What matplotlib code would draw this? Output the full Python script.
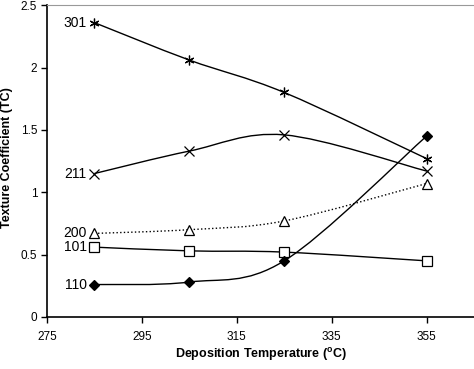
import matplotlib.pyplot as plt
from matplotlib.path import Path
from matplotlib.patches import PathPatch

plt.rcParams['font.family'] = ['Liberation Sans', 'DejaVu Sans']

temps = [285, 305, 325, 355]
tc_301 = [2.36, 2.06, 1.80, 1.27]
tc_211 = [1.15, 1.33, 1.46, 1.17]
tc_200 = [0.67, 0.70, 0.77, 1.07]
tc_101 = [0.56, 0.53, 0.52, 0.45]
tc_110 = [0.26, 0.28, 0.45, 1.45]

# name, values, marker, face, linestyle, marker size
series = [
    ("301", tc_301, (6, 2, 0), 'none', '-', 7),
    ("211", tc_211, 'x', 'none', '-', 6.5),
    ("200", tc_200, '^', 'white', ':', 6.5),
    ("101", tc_101, 's', 'white', '-', 6.5),
    ("110", tc_110, 'D', 'black', '-', 5),
]


def smooth_path(x, y):
    # excel style smoothed line (cubic bezier, catmull-rom tangents)
    pts = list(zip(x, y))
    n = len(pts)
    verts = [pts[0]]
    codes = [Path.MOVETO]
    for i in range(n - 1):
        p0 = pts[max(i - 1, 0)]
        p1 = pts[i]
        p2 = pts[i + 1]
        p3 = pts[min(i + 2, n - 1)]
        c1 = (p1[0] + (p2[0] - p0[0]) / 6, p1[1] + (p2[1] - p0[1]) / 6)
        c2 = (p2[0] - (p3[0] - p1[0]) / 6, p2[1] - (p3[1] - p1[1]) / 6)
        verts += [c1, c2, p2]
        codes += [Path.CURVE4] * 3
    return Path(verts, codes)


fig = plt.figure(figsize=(4.74, 3.69), dpi=100)
ax = fig.add_axes([0.099, 0.141, 0.901, 0.845])

for name, vals, mk, fc, ls, ms in series:
    ax.add_patch(PathPatch(smooth_path(temps, vals), fill=False,
                           edgecolor='black', lw=1.0, linestyle=ls))
    ax.plot(temps, vals, linestyle='none', marker=mk, markersize=ms,
            markerfacecolor=fc, markeredgecolor='black', mew=0.9)
    ax.text(temps[0] - 1.6, vals[0], name, ha='right', va='center', fontsize=10)

ax.set_xlim(275, 365)
ax.set_ylim(0, 2.5)
ax.set_xticks([275, 295, 315, 335, 355])
ax.set_yticks([0, 0.5, 1, 1.5, 2, 2.5])
ax.set_yticklabels(["0", "0.5", "1", "1.5", "2", "2.5"])
ax.tick_params(direction='out', labelsize=8.5, length=4, width=1)
ax.tick_params(axis='x', pad=6)
ax.tick_params(axis='y', pad=3)

ax.spines['right'].set_visible(False)
ax.spines['top'].set_color('#999999')
ax.spines['left'].set_linewidth(1.2)
ax.spines['bottom'].set_linewidth(1.2)

fig.text(0.5 * (0.099 + 1.0) + 0.0, 6 / 369, "Deposition Temperature ($^{\\mathregular{o}}$C)",
         fontweight='bold', fontsize=9, ha='center', va='bottom')
fig.text(7 / 474, 1 - 158 / 369, "Texture Coefficient (TC)", fontweight='bold', fontsize=9,
         rotation=90, ha='center', va='center')

fig.savefig("out.png", dpi=100)
